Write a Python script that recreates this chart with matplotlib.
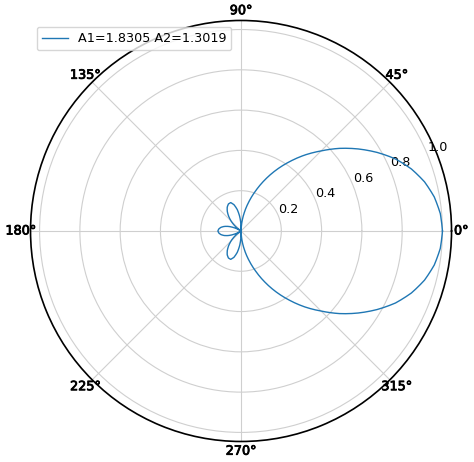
import numpy as np
import matplotlib
matplotlib.use("Agg")
import matplotlib.pyplot as plt
import matplotlib.patheffects as pe

# pattern, upper half (0..180 deg), lower half is its mirror
theta_deg = [0, 5, 10, 15, 20, 25, 30, 35, 40, 45, 50, 55, 60, 65, 70, 75, 80, 85, 88,
             90, 95, 100, 105, 110, 115, 120, 125, 130, 135, 140, 145, 148,
             150, 155, 160, 165, 170, 175, 180]
r_vals = [1.000, 0.993, 0.974, 0.943, 0.900, 0.846, 0.780, 0.710, 0.638, 0.562,
          0.492, 0.420, 0.350, 0.280, 0.212, 0.150, 0.092, 0.038, 0.0,
          0.022, 0.070, 0.108, 0.135, 0.150, 0.148, 0.137, 0.119, 0.096, 0.070,
          0.042, 0.013, 0.0,
          0.012, 0.040, 0.066, 0.087, 0.102, 0.111, 0.115]

A1 = 1.8305
A2 = 1.3019
r_ticks = [0.2, 0.4, 0.6, 0.8, 1.0]

theta_full = theta_deg + [360 - t for t in reversed(theta_deg[:-1])]
r_full = r_vals + r_vals[-2::-1]

plt.rcParams["font.size"] = 9.2

fig = plt.figure(figsize=(4.74, 4.62), dpi=100)
ax = fig.add_axes([0.0644, 0.0444, 0.8882, 0.9113], projection="polar")
line, = ax.plot(np.deg2rad(theta_full), r_full, color="#1f77b4", lw=1.0,
                label=f"A1={A1:.4f} A2={A2:.4f}")
# let the polar transform draw each segment as an arc instead of a chord
line.get_path()._interpolation_steps = 12

ax.set_ylim(0, 1.045)
ax.set_yticks(r_ticks)
ax.set_rlabel_position(22.5)
ax.tick_params(axis="x", pad=-3.5)
for lab in ax.get_xticklabels():
    lab.set_path_effects([pe.withStroke(linewidth=0.6, foreground="black")])
ax.grid(True, color="#cfcfcf", lw=0.8)
ax.spines["polar"].set_linewidth(1.2)
ax.legend(loc="upper left", bbox_to_anchor=(0, 1), fontsize=9.2)

fig.savefig("out.png", dpi=100)
